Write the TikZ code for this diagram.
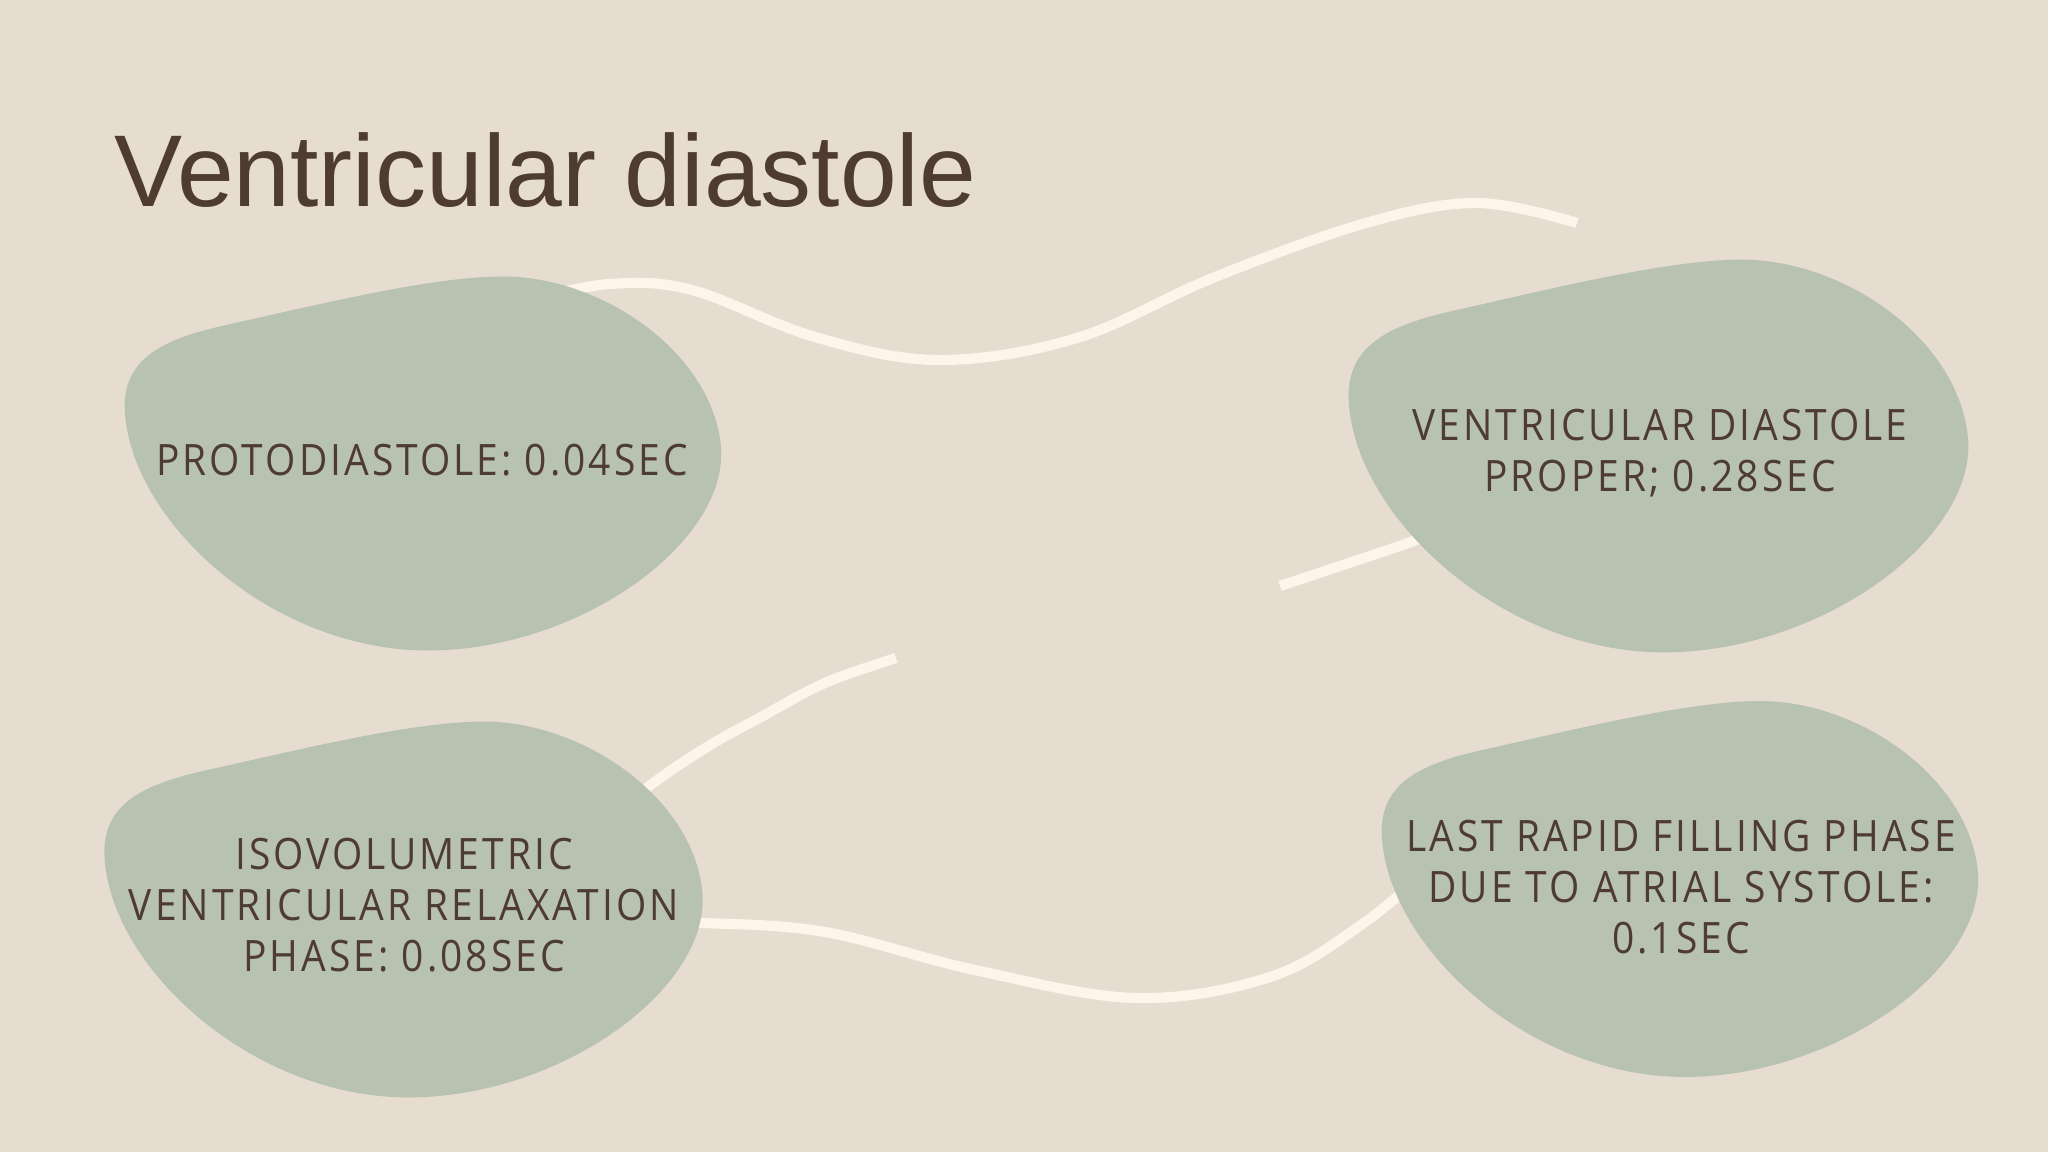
\documentclass[tikz,border=0pt]{standalone}
\usepackage{fontspec}
\setmainfont{Liberation Sans}
\newfontfamily\phasefont[FakeStretch=0.9, LetterSpace=7]{Open Sans}

\definecolor{bgbeige}{HTML}{E6DCD0}
\definecolor{blobgreen}{HTML}{B8C2B0}
\definecolor{wavecream}{HTML}{FDF4EA}
\definecolor{inkbrown}{HTML}{4E3B31}

\tikzset{
  blob/.style={fill=blobgreen, draw=none},
  wave/.style={draw=wavecream, line width=2.9pt},
  phase/.style={text=inkbrown, align=center, inner sep=0pt,
    font=\phasefont\fontsize{12.3}{14.5}\selectfont}
}

\begin{document}
\begin{tikzpicture}[x=0.01cm, y=-0.01cm]
  % slide background
  \useasboundingbox (0,0) rectangle (2048,1152);
  \fill[bgbeige] (0,0) rectangle (2048,1152);

  % free ends of the waves
  \coordinate (waveAend) at (1577,223);
  \coordinate (waveBend) at (1280,586);
  \coordinate (waveCend) at (896,658);

  % waves (drawn first, the blobs cover their other ends)
  \draw[wave] plot[smooth, tension=0.6] coordinates {(530,300) (610,284) (692,290) (815,337) (939,360)
    (1077,338) (1215,277) (1366,223) (1477,203) (waveAend)};
  \draw[wave] plot[smooth, tension=0.6] coordinates {(waveBend) (1337,567) (1416,540) (1470,516)};
  \draw[wave] plot[smooth, tension=0.6] coordinates {(600,830) (648,787) (707,747) (761,717) (825,683) (waveCend)};
  \draw[wave] plot[smooth, tension=0.6] coordinates {(640,924) (702,923) (825,932) (975,970)
    (1136,998) (1270,977) (1361,925) (1440,860)};

  % blobs
  \foreach \cx/\cy/\sx/\sy in {423/463.5/1/1, 1658.5/456/1.039/1.05, 403.6/909.5/1.003/1.005, 1680/889/1/1.005} {
    \fill[blob, shift={(\cx,\cy)}, xscale=\sx, yscale=\sy]
      (-298,-50) .. controls (-303,-110) and (-250,-127) .. (-190,-140)
      .. controls (-100,-160) and (10,-187) .. (80,-187)
      .. controls (180,-187) and (290,-110) .. (298,-16)
      .. controls (305,80) and (155,187) .. (5,187)
      .. controls (-150,187) and (-290,60) .. cycle;
  }

  % title
  \node[anchor=base west, inner sep=0pt, text=inkbrown, font=\fontsize{29}{34}\selectfont]
    (title) at (114,207) {Ventricular diastole};

  % phases
  \node[phase] (proto) at (422,460) {PROTODIASTOLE: 0.04SEC};
  \node[phase] (proper) at (1660,453) {VENTRICULAR DIASTOLE\\PROPER; 0.28SEC};
  \node[phase] (isovol) at (404,905.5) {ISOVOLUMETRIC\\VENTRICULAR RELAXATION\\PHASE: 0.08SEC};
  \node[phase] (rapid) at (1681,887) {LAST RAPID FILLING PHASE\\DUE TO ATRIAL SYSTOLE:\\0.1SEC};
\end{tikzpicture}
\end{document}
